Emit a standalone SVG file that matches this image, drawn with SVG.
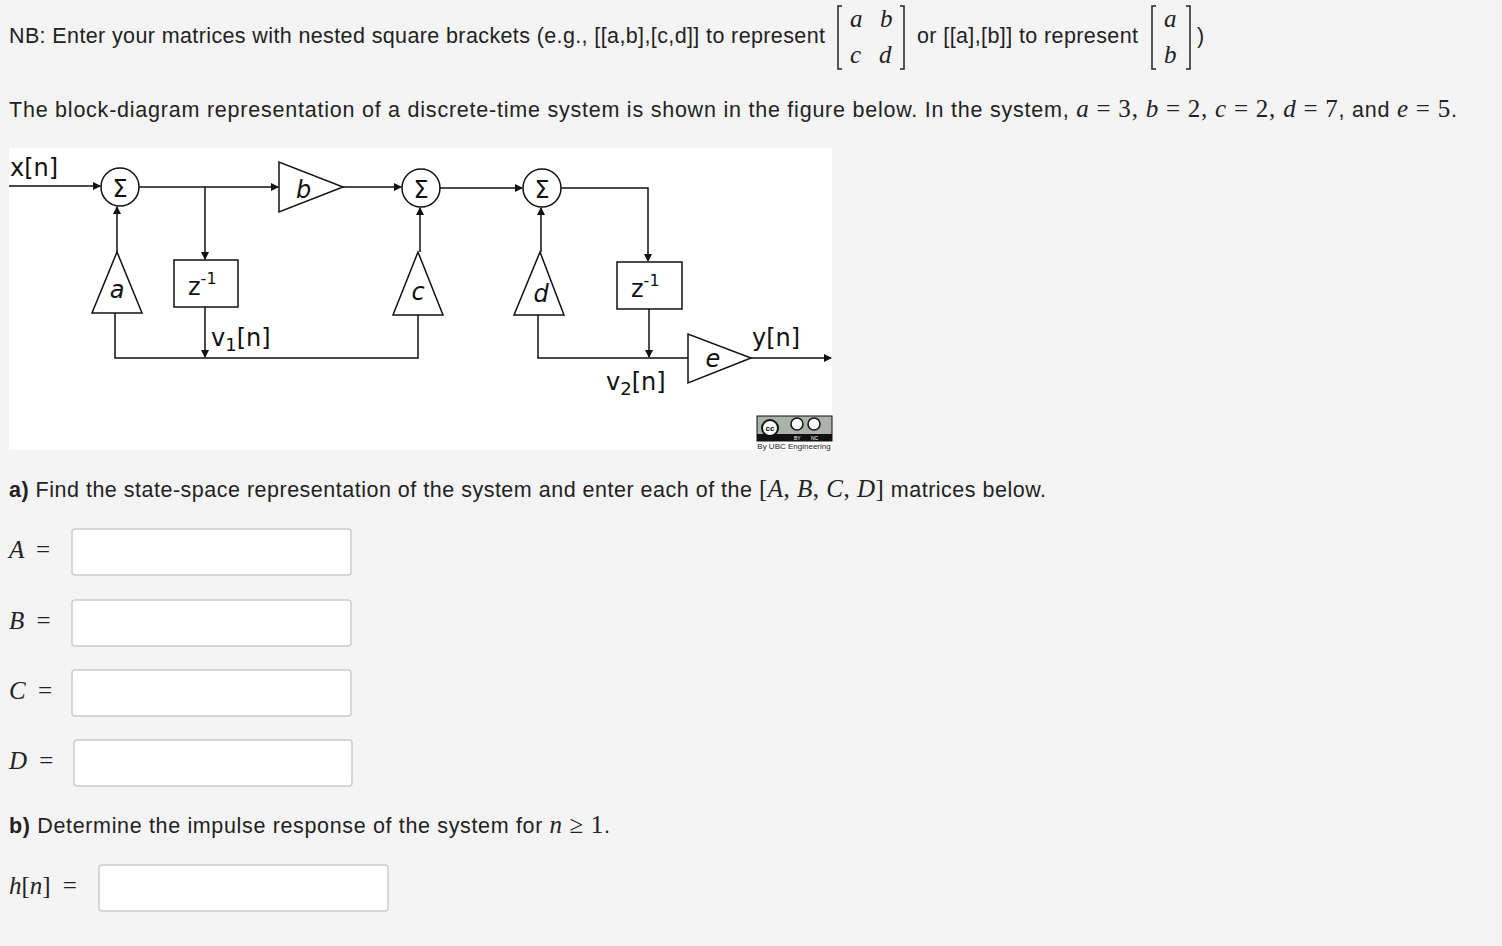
<svg xmlns="http://www.w3.org/2000/svg" width="1502" height="946" viewBox="0 0 1502 946">
<style>
.t{font-family:"Liberation Sans",Arial,sans-serif;font-size:21.5px;fill:#222}
.m{font-family:"Liberation Serif","Times New Roman",serif;font-size:25px;fill:#222}
.mi{font-family:"Liberation Serif","Times New Roman",serif;font-style:italic;font-size:25px;fill:#222}
.h{font-family:"DejaVu Sans",sans-serif;font-size:24px;fill:#111}
.ln{stroke:#111;stroke-width:1.5;fill:none}
.sh{stroke:#111;stroke-width:1.5;fill:#fff}
.box{fill:#fff;stroke:#ccc;stroke-width:1.5}
.br{stroke:#222;stroke-width:1.5;fill:none}
</style>
<defs><marker id="ar" markerWidth="8" markerHeight="8" refX="7" refY="4" orient="auto" markerUnits="userSpaceOnUse"><path d="M0,0L8,4L0,8z" fill="#111"/></marker></defs>
<rect width="1502" height="946" fill="#f4f4f4"/>
<g id="header">
<text class="t" x="9" y="43" textLength="816" lengthAdjust="spacing">NB: Enter your matrices with nested square brackets (e.g., [[a,b],[c,d]] to represent</text>
<path class="br" d="M842,6H838V69H842M900,6H904V69H900"/>
<text class="mi" x="850" y="27" font-size="22">a</text><text class="mi" x="880" y="27" font-size="22">b</text>
<text class="mi" x="850" y="63" font-size="22">c</text><text class="mi" x="879" y="63" font-size="22">d</text>
<text class="t" x="917" y="43" textLength="221" lengthAdjust="spacing">or [[a],[b]] to represent</text>
<path class="br" d="M1156,6H1152V69H1156M1186,6H1190V69H1186"/>
<text class="mi" x="1164" y="27" font-size="22">a</text><text class="mi" x="1164" y="63" font-size="22">b</text>
<text class="t" x="1197" y="43">)</text>
<text class="t" x="9" y="117" textLength="1448" lengthAdjust="spacing">The block-diagram representation of a discrete-time system is shown in the figure below. In the system, <tspan class="mi">a</tspan><tspan class="m"> = 3, </tspan><tspan class="mi">b</tspan><tspan class="m"> = 2, </tspan><tspan class="mi">c</tspan><tspan class="m"> = 2, </tspan><tspan class="mi">d</tspan><tspan class="m"> = 7</tspan>, and <tspan class="mi">e</tspan><tspan class="m"> = 5</tspan>.</text>
</g>
<rect x="9" y="148" width="823" height="302" fill="#fff"/>
<g id="connectors">
<path class="ln" d="M9,186H100" marker-end="url(#ar)"/>
<path class="ln" d="M139,187H278" marker-end="url(#ar)"/>
<path class="ln" d="M205,187V259" marker-end="url(#ar)"/>
<path class="ln" d="M343,187H401" marker-end="url(#ar)"/>
<path class="ln" d="M440,188H522" marker-end="url(#ar)"/>
<path class="ln" d="M561,188H648V261" marker-end="url(#ar)"/>
<path class="ln" d="M205,307V357" marker-end="url(#ar)"/>
<path class="ln" d="M115,313V358H418V315"/>
<path class="ln" d="M117,252V207" marker-end="url(#ar)"/>
<path class="ln" d="M420,252V208" marker-end="url(#ar)"/>
<path class="ln" d="M541,252V208" marker-end="url(#ar)"/>
<path class="ln" d="M649,309V357" marker-end="url(#ar)"/>
<path class="ln" d="M538,315V358H688"/>
<path class="ln" d="M751,358H831" marker-end="url(#ar)"/>
</g>
<g id="sum1"><circle class="sh" cx="120" cy="187" r="19"/><text class="h" x="120" y="197" font-size="28" text-anchor="middle">Σ</text></g>
<g id="sum2"><circle class="sh" cx="421" cy="188" r="19"/><text class="h" x="421" y="198" font-size="28" text-anchor="middle">Σ</text></g>
<g id="sum3"><circle class="sh" cx="542" cy="188" r="19"/><text class="h" x="542" y="198" font-size="28" text-anchor="middle">Σ</text></g>
<g id="gain-b"><path class="sh" d="M279,162L279,212L343,187z"/><text class="h" x="296" y="198" font-size="28" font-style="italic">b</text></g>
<g id="gain-a"><path class="sh" d="M117,252L92,313L142,313z"/><text class="h" x="117" y="298" font-size="26" text-anchor="middle" font-style="italic">a</text></g>
<g id="gain-c"><path class="sh" d="M418,252L393,315L443,315z"/><text class="h" x="418" y="300" font-size="26" text-anchor="middle" font-style="italic">c</text></g>
<g id="gain-d"><path class="sh" d="M540,252L514,315L564,315z"/><text class="h" x="541" y="302" font-size="28" text-anchor="middle" font-style="italic">d</text></g>
<g id="gain-e"><path class="sh" d="M688,334L688,383L751,358z"/><text class="h" x="713" y="367" font-size="26" text-anchor="middle" font-style="italic">e</text></g>
<g id="delay1"><rect class="sh" x="174" y="260" width="64" height="47"/><text class="h" x="188" y="295" font-size="26">z<tspan font-size="16" dy="-11">-1</tspan></text></g>
<g id="delay2"><rect class="sh" x="617" y="262" width="65" height="47"/><text class="h" x="631" y="297" font-size="26">z<tspan font-size="16" dy="-11">-1</tspan></text></g>
<g id="labels">
<text class="h" x="10" y="176" font-size="30">x[n]</text>
<text class="h" x="211" y="346" font-size="30">v<tspan font-size="18" dy="5">1</tspan><tspan dy="-5">[n]</tspan></text>
<text class="h" x="606" y="390" font-size="30">v<tspan font-size="18" dy="5">2</tspan><tspan dy="-5">[n]</tspan></text>
<text class="h" x="752" y="346" font-size="30">y[n]</text>
</g>
<g id="cc">
<rect x="757" y="416" width="75" height="25" fill="#aab2ab" stroke="#111"/>
<rect x="757" y="434" width="75" height="7" fill="#111"/>
<circle cx="770" cy="428" r="8" fill="#fff" stroke="#111" stroke-width="2"/>
<text x="770" y="431" font-family="Liberation Sans,sans-serif" font-size="8" font-weight="bold" text-anchor="middle">cc</text>
<circle cx="797" cy="424" r="6" fill="#fff" stroke="#111" stroke-width="1.5"/>
<circle cx="814" cy="424" r="6" fill="#fff" stroke="#111" stroke-width="1.5"/>
<text x="794" y="440" font-family="Liberation Sans,sans-serif" font-size="5" fill="#fff">BY</text>
<text x="811" y="440" font-family="Liberation Sans,sans-serif" font-size="5" fill="#fff">NC</text>
<text x="794" y="449" font-family="Liberation Sans,sans-serif" font-size="8" fill="#222" text-anchor="middle">By UBC Engineering</text>
</g>
<g id="questions">
<text class="t" x="9" y="497" textLength="1037" lengthAdjust="spacing"><tspan font-weight="bold">a)</tspan> Find the state-space representation of the system and enter each of the <tspan class="m" font-size="28">[</tspan><tspan class="mi" font-size="28">A</tspan><tspan class="m" font-size="28">, </tspan><tspan class="mi" font-size="28">B</tspan><tspan class="m" font-size="28">, </tspan><tspan class="mi" font-size="28">C</tspan><tspan class="m" font-size="28">, </tspan><tspan class="mi" font-size="28">D</tspan><tspan class="m" font-size="28">]</tspan> matrices below.</text>
<text class="mi" x="9" y="558" font-size="27">A <tspan class="m" font-size="27" font-style="normal" dx="6">=</tspan></text>
<rect class="box" x="72" y="529" width="279" height="46" rx="3"/>
<text class="mi" x="9" y="629" font-size="27">B <tspan class="m" font-size="27" font-style="normal" dx="6">=</tspan></text>
<rect class="box" x="72" y="600" width="279" height="46" rx="3"/>
<text class="mi" x="9" y="699" font-size="27">C <tspan class="m" font-size="27" font-style="normal" dx="6">=</tspan></text>
<rect class="box" x="72" y="670" width="279" height="46" rx="3"/>
<text class="mi" x="9" y="769" font-size="27">D <tspan class="m" font-size="27" font-style="normal" dx="6">=</tspan></text>
<rect class="box" x="74" y="740" width="278" height="46" rx="3"/>
<text class="t" x="9" y="833" textLength="601" lengthAdjust="spacing"><tspan font-weight="bold">b)</tspan> Determine the impulse response of the system for <tspan class="mi">n</tspan><tspan class="m"> ≥ 1</tspan>.</text>
<text class="mi" x="9" y="894" font-size="27">h<tspan class="m" font-size="27" font-style="normal">[</tspan>n<tspan class="m" font-size="27" font-style="normal">]</tspan><tspan class="m" font-size="27" font-style="normal" dx="12">=</tspan></text>
<rect class="box" x="99" y="865" width="289" height="46" rx="3"/>
</g>
</svg>
